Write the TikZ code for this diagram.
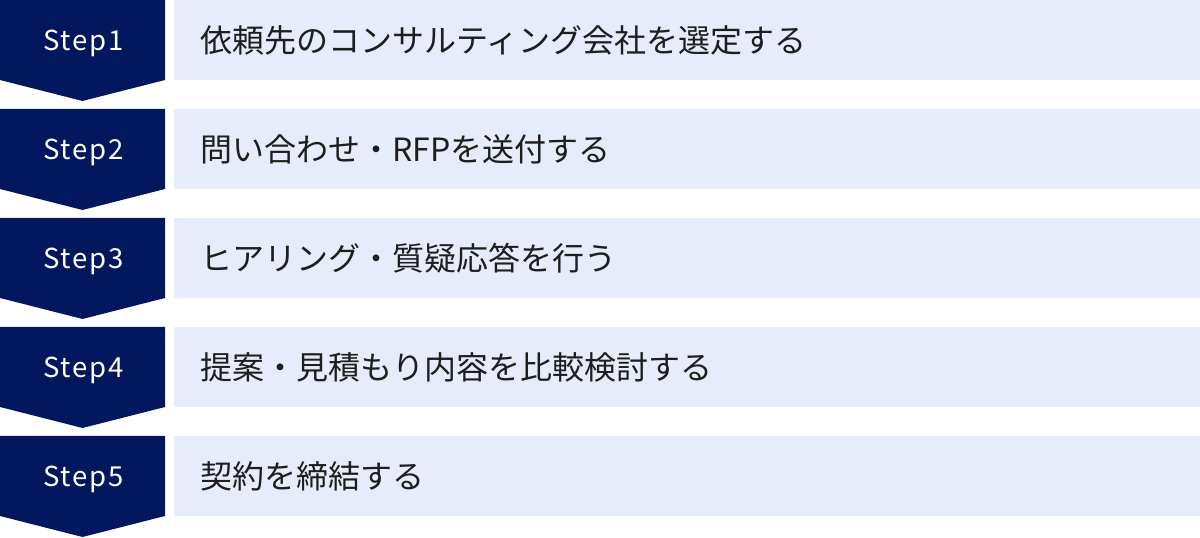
\documentclass[tikz,border=0pt]{standalone}
\usepackage{fontspec}
\setmainfont{Noto Sans CJK JP}
\newfontfamily\tagfont[LetterSpace=7]{Noto Sans CJK JP}
\usepackage{tikz}
\usepackage{color}

\definecolor{stepnavy}{HTML}{03175F}
\definecolor{steplight}{HTML}{E6ECF9}
\definecolor{steptext}{HTML}{1E1E1E}

\begin{document}
\begin{tikzpicture}[x=1pt, y=1pt,
  stepshape/.style={fill=stepnavy, draw=none},
  steptag/.style={anchor=base, text=white, font=\tagfont\fontsize{27.5}{32}\selectfont, inner sep=0},
  stepbar/.style={fill=steplight, draw=none},
  steplabel/.style={anchor=west, text=steptext, font=\fontsize{32}{38}\selectfont, inner sep=0}]

\useasboundingbox (0,0) rectangle (1200,538);

% Step 1
\fill[stepshape] (0,538) -- (165,538) -- (165,458) -- (82.5,437) -- (0,458) -- cycle;
\fill[stepbar] (174,538) rectangle (1200,458);
\node[steptag] (tag1) at (83.5,487) {Step1};
\node[steplabel] (label1) at (200,497.5) {依頼先のコンサルティング会社を選定する};

% Step 2
\fill[stepshape] (0,429) -- (165,429) -- (165,349) -- (82.5,328) -- (0,349) -- cycle;
\fill[stepbar] (174,429) rectangle (1200,349);
\node[steptag] (tag2) at (83.5,378) {Step2};
\node[steplabel] (label2) at (200,388.5) {問い合わせ・RFPを送付する};

% Step 3
\fill[stepshape] (0,320) -- (165,320) -- (165,240) -- (82.5,219) -- (0,240) -- cycle;
\fill[stepbar] (174,320) rectangle (1200,240);
\node[steptag] (tag3) at (83.5,269) {Step3};
\node[steplabel] (label3) at (200,279.5) {ヒアリング・質疑応答を行う};

% Step 4
\fill[stepshape] (0,211) -- (165,211) -- (165,131) -- (82.5,110) -- (0,131) -- cycle;
\fill[stepbar] (174,211) rectangle (1200,131);
\node[steptag] (tag4) at (83.5,160) {Step4};
\node[steplabel] (label4) at (200,170.5) {提案・見積もり内容を比較検討する};

% Step 5
\fill[stepshape] (0,102) -- (165,102) -- (165,22) -- (82.5,1) -- (0,22) -- cycle;
\fill[stepbar] (174,102) rectangle (1200,22);
\node[steptag] (tag5) at (83.5,51) {Step5};
\node[steplabel] (label5) at (200,61.5) {契約を締結する};

\end{tikzpicture}
\end{document}
